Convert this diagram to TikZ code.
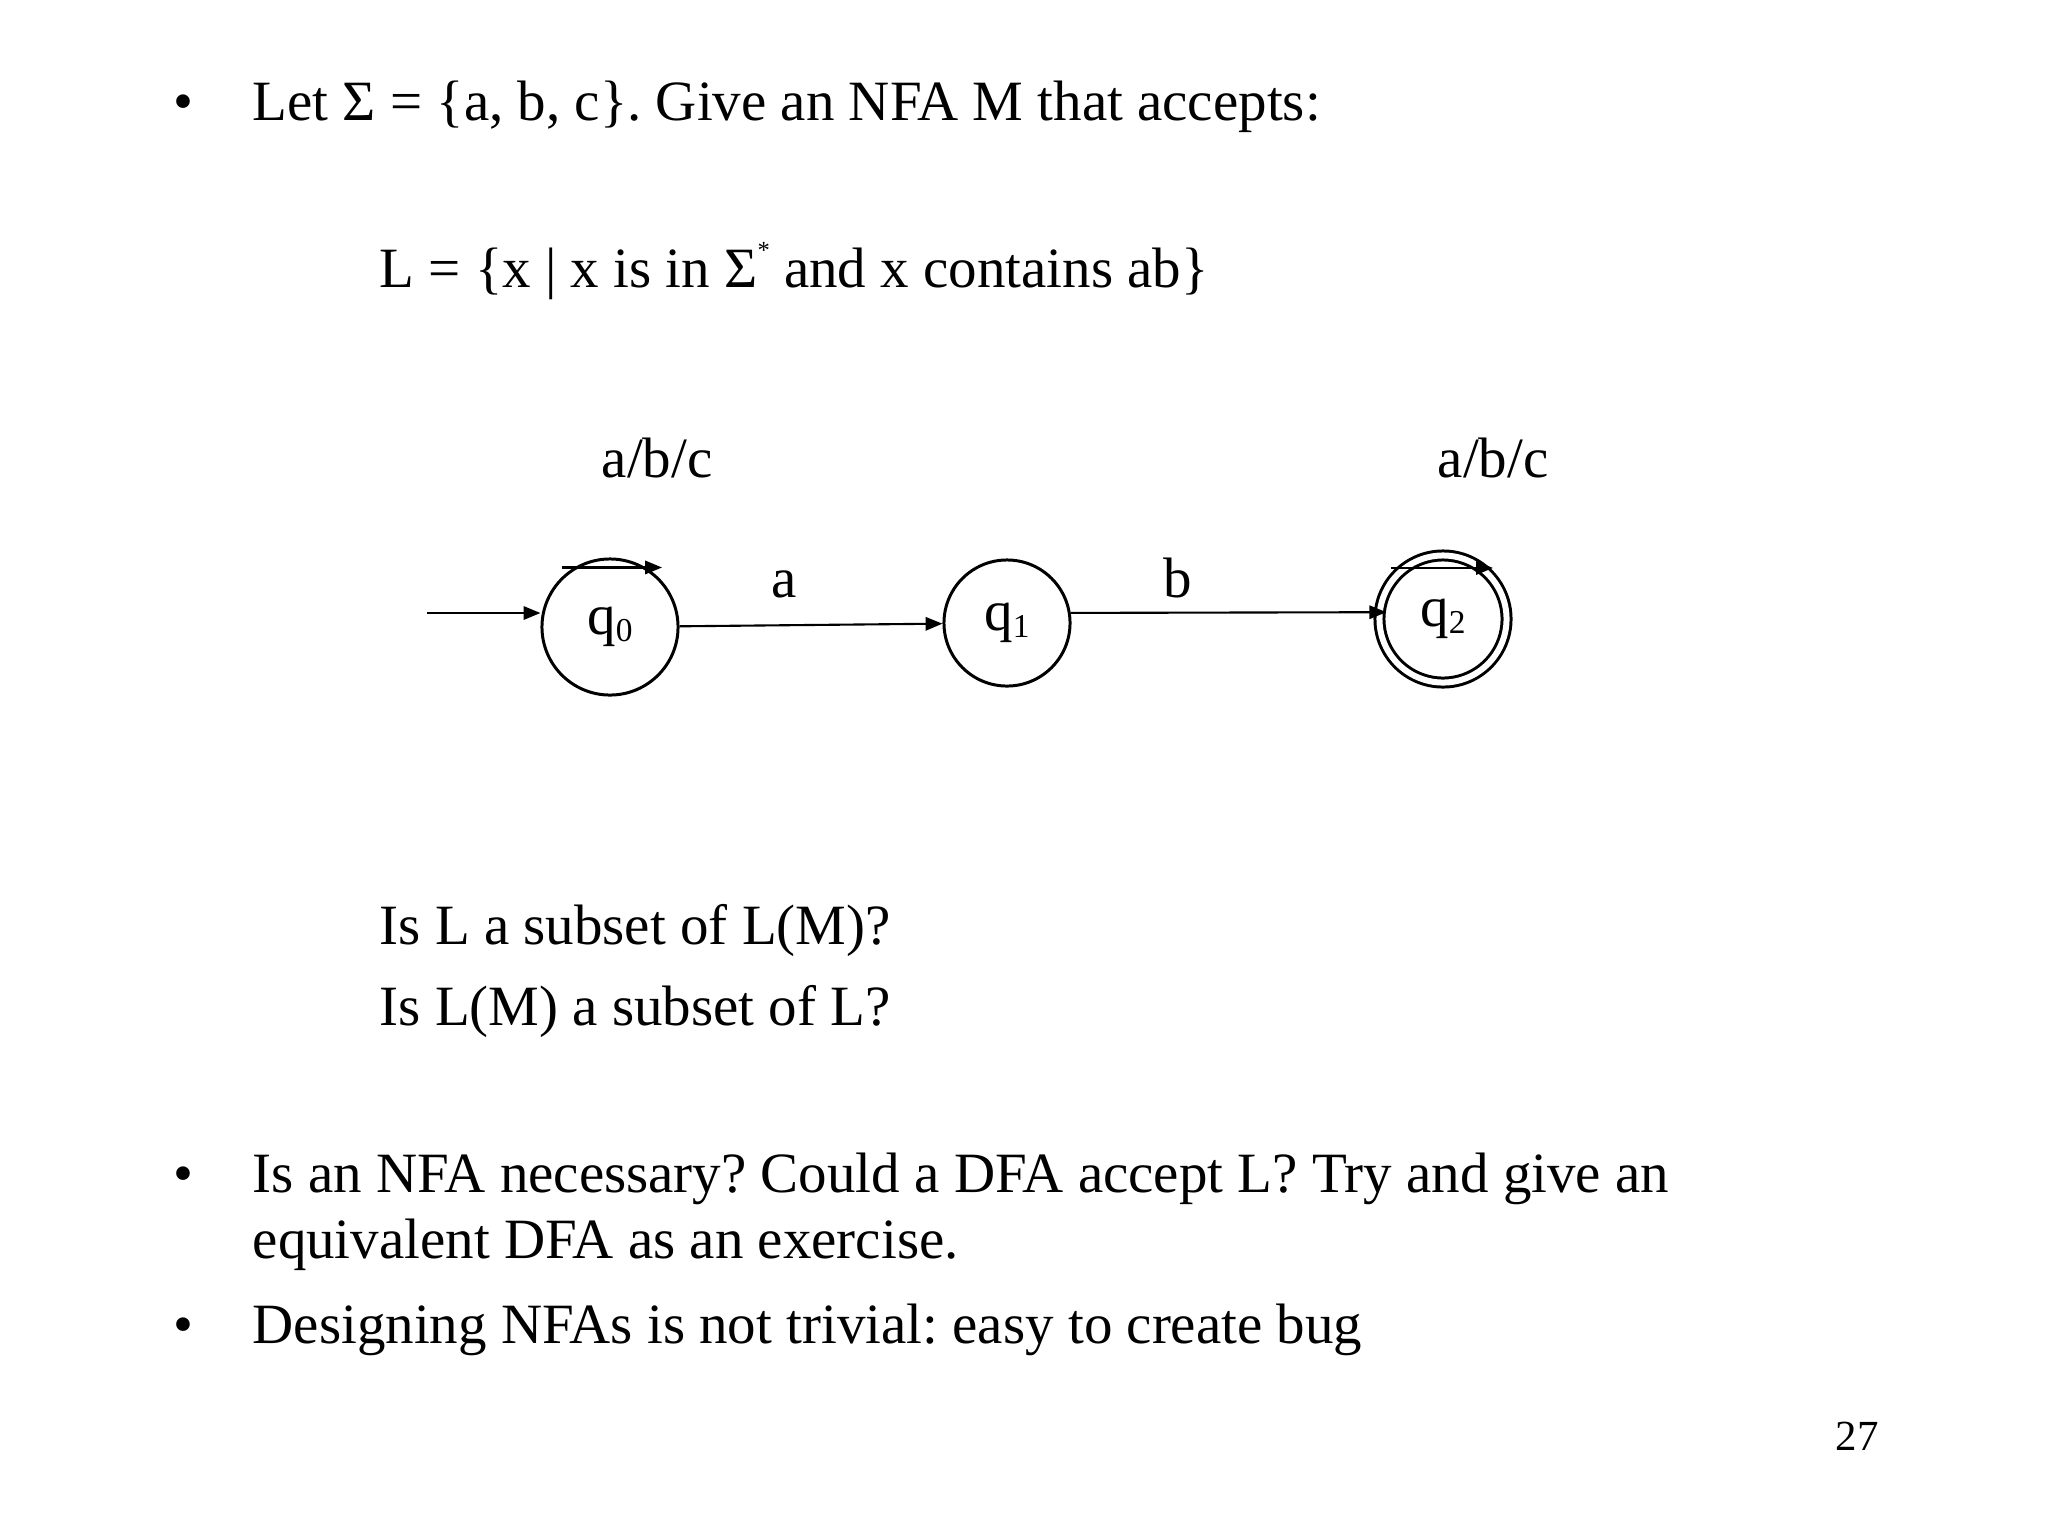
\documentclass[tikz,border=0pt]{standalone}
\usepackage{fontspec}
\setmainfont{Liberation Serif}
\usetikzlibrary{arrows.meta}
\frenchspacing
\newcommand{\pedice}[1]{\raisebox{-0.12em}{\fontsize{9.5}{10}\selectfont #1}}

\begin{document}
\begin{tikzpicture}[x=0.01cm, y=-0.01cm,
    testo/.style={anchor=base west, inner sep=0pt, font=\fontsize{16.2}{19}\selectfont},
    pallino/.style={testo, anchor=base},
    stato/.style={circle, draw, line width=0.85pt, minimum size=1.36cm, inner sep=0pt,
        font=\fontsize{16.2}{19}\selectfont},
    finale/.style={stato, double, double distance=0.06cm, minimum size=1.27cm},
    freccia/.style={-{Triangle[length=4.8pt,width=3.8pt]}, line width=0.6pt}]
    % pagina
    \useasboundingbox (0,0) rectangle (2048,1536);

    % testo in alto
    \node[pallino] (pall1) at (183,120) {•};
    \node[testo] (domanda) at (252,120) {Let Σ = \{a, b, c\}. Give an NFA M that accepts:};
    \node[testo] (linguaggio) at (379,287) {L = \{x | x is in Σ\raisebox{0.5em}{\fontsize{7}{7}\selectfont *} and x contains ab\}};

    % stati
    \node[stato] (q0) at (610,627) {q\pedice{0}};
    \node[stato, minimum size=1.26cm] (q1) at (1007,623) {q\pedice{1}};
    \node[finale] (q2) at (1443,619) {q\pedice{2}};
    \coordinate (inizio) at (427,613);

    % archi
    \draw[freccia] (inizio) -- (inizio -| q0.west);
    \draw[freccia] (q0) -- (q1);
    \draw[freccia, shorten >=-0.08cm] (q1.9) -- (q2.174);
    \draw[freccia] ([shift={(-48,10)}]q0.north) -- ++(100,0);
    \draw[freccia] ([shift={(-52,14)}]q2.north) -- ++(102,0);

    % etichette
    \node[testo] (ciclo0) at (601,477) {a/b/c};
    \node[testo] (ciclo2) at (1437,477) {a/b/c};
    \node[pallino] (etA) at (784,597) {a};
    \node[pallino] (etB) at (1178,597) {b};

    % domande
    \node[testo] (dom1) at (379,944) {Is L a subset of L(M)?};
    \node[testo] (dom2) at (379,1025) {Is L(M) a subset of L?};

    \node[pallino] (pall2) at (183,1192) {•};
    \node[testo] (riga1) at (252,1192) {Is an NFA necessary? Could a DFA accept L? Try and give an};
    \node[testo] (riga2) at (252,1258) {equivalent DFA as an exercise.};
    \node[pallino] (pall3) at (183,1343) {•};
    \node[testo] (riga3) at (252,1343) {Designing NFAs is not trivial: easy to create bug};

    % numero pagina
    \node[testo, font=\fontsize{12.2}{14}\selectfont] (pagina) at (1835,1450) {27};
\end{tikzpicture}
\end{document}
